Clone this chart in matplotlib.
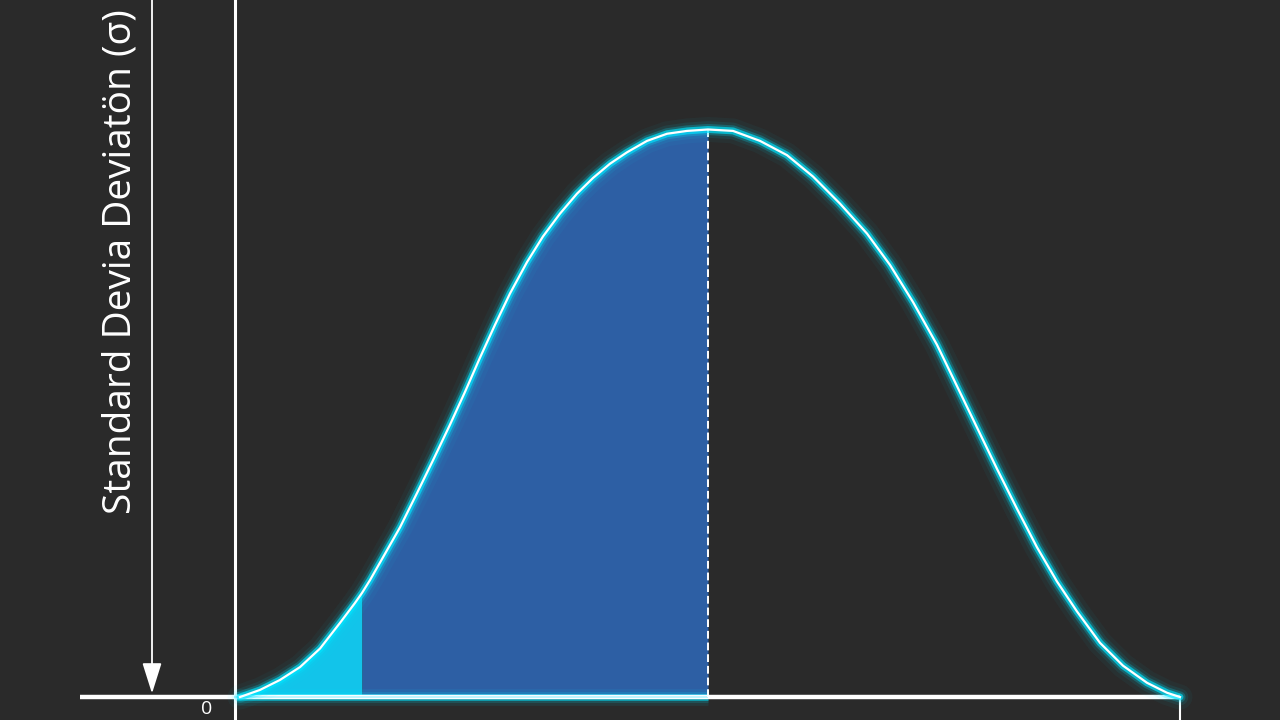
import numpy as np
import matplotlib.pyplot as plt

# curve: x in sigma units from the mean, y as density
curve_x = [-2.34, -2.24, -2.14, -2.04, -1.94, -1.84, -1.765, -1.73, -1.69, -1.625,
           -1.54, -1.455, -1.375, -1.29, -1.215, -1.14, -1.065, -0.99, -0.905,
           -0.825, -0.74, -0.655, -0.575, -0.49, -0.405, -0.305, -0.205, -0.105,
           0.0,
           0.125, 0.26, 0.395, 0.525, 0.66, 0.795, 0.91, 1.025, 1.145, 1.245,
           1.345, 1.445, 1.545, 1.645, 1.745, 1.845, 1.96, 2.075, 2.195, 2.295,
           2.36]
curve_y = [0.000, 0.005, 0.012, 0.021, 0.034, 0.052, 0.066, 0.073, 0.082, 0.098,
           0.119, 0.143, 0.166, 0.191, 0.214, 0.238, 0.261, 0.283, 0.305,
           0.323, 0.339, 0.353, 0.364, 0.374, 0.382, 0.390, 0.395, 0.397,
           0.398,
           0.397, 0.390, 0.380, 0.365, 0.346, 0.325, 0.303, 0.277, 0.247, 0.218,
           0.189, 0.160, 0.132, 0.105, 0.081, 0.060, 0.038, 0.022, 0.010, 0.003,
           0.000]

tail_edge = -1.73      # light cyan tail ends here
mean_x = 0.0           # dashed line / end of blue area
y_label = "Standard Devia Deviatön (σ)"
zero_label = "0"

bg = "#2a2a2a"
cyan = "#12c4ea"
blue = "#2d5fa4"
fonts = ["Open Sans", "DejaVu Sans"]

fig = plt.figure(figsize=(12.8, 7.2), dpi=100, facecolor=bg)
ax = fig.add_axes([0, 0, 1, 1])
ax.set_facecolor(bg)
ax.set_xlim(-3.54, 2.86)
ax.set_ylim(-0.0161, 0.4888)
ax.axis("off")

cx = np.array(curve_x)
cy = np.array(curve_y)

# filled areas
m1 = cx <= tail_edge
ax.fill_between(cx[m1], 0, cy[m1], color=cyan, lw=0, zorder=2)
m2 = (cx >= tail_edge) & (cx <= mean_x)
ax.fill_between(cx[m2], 0, cy[m2], color=blue, lw=0, zorder=2)

# glowing baseline under the shaded part
bx = [curve_x[0] - 0.03, mean_x]
for lw, a in [(12, 0.08), (8, 0.15), (5, 0.5)]:
    ax.plot(bx, [0, 0], color="#00e5ff", lw=lw, alpha=a, solid_capstyle="butt", zorder=3)

# axes lines
ax.plot([-3.14, 2.36], [0, 0], color="white", lw=3.2, solid_capstyle="butt", zorder=4)
ax.plot([-2.365, -2.365], [-0.02, 0.5], color="white", lw=2.2, zorder=4)
ax.plot([2.36, 2.36], [-0.02, 0.0], color="white", lw=1.5, zorder=4)
ax.plot(bx, [0, 0], color="#bff6ff", lw=1.5, solid_capstyle="butt", zorder=5)

# arrow down the left side
ax.annotate("", xy=(-2.78, 0.0025), xytext=(-2.78, 0.5),
            arrowprops=dict(arrowstyle="-|>,head_length=1.9,head_width=0.6",
                            color="white", lw=1.3, shrinkA=0, shrinkB=0),
            zorder=4)

# dashed mean line
ax.plot([mean_x, mean_x], [0, max(curve_y)], color="white", lw=1.4,
        ls=(0, (4, 2)), zorder=5)

# glowing curve
for lw, a in [(18, 0.04), (12, 0.08), (8, 0.22), (5, 0.65)]:
    ax.plot(cx, cy, color="#00e5ff", lw=lw, alpha=a, solid_joinstyle="round",
            solid_capstyle="round", zorder=6)
ax.plot(cx, cy, color="white", lw=1.6, solid_joinstyle="round", zorder=7)

fig.text(120 / 1280, 1 - 514 / 720, y_label, rotation=90, ha="center", va="bottom",
         color="white", fontsize=28, family=fonts)
fig.text(207 / 1280, 1 - 700 / 720, zero_label, ha="center", va="top",
         color="white", fontsize=14, family=fonts)

fig.savefig("out.png", dpi=100, facecolor=bg)
